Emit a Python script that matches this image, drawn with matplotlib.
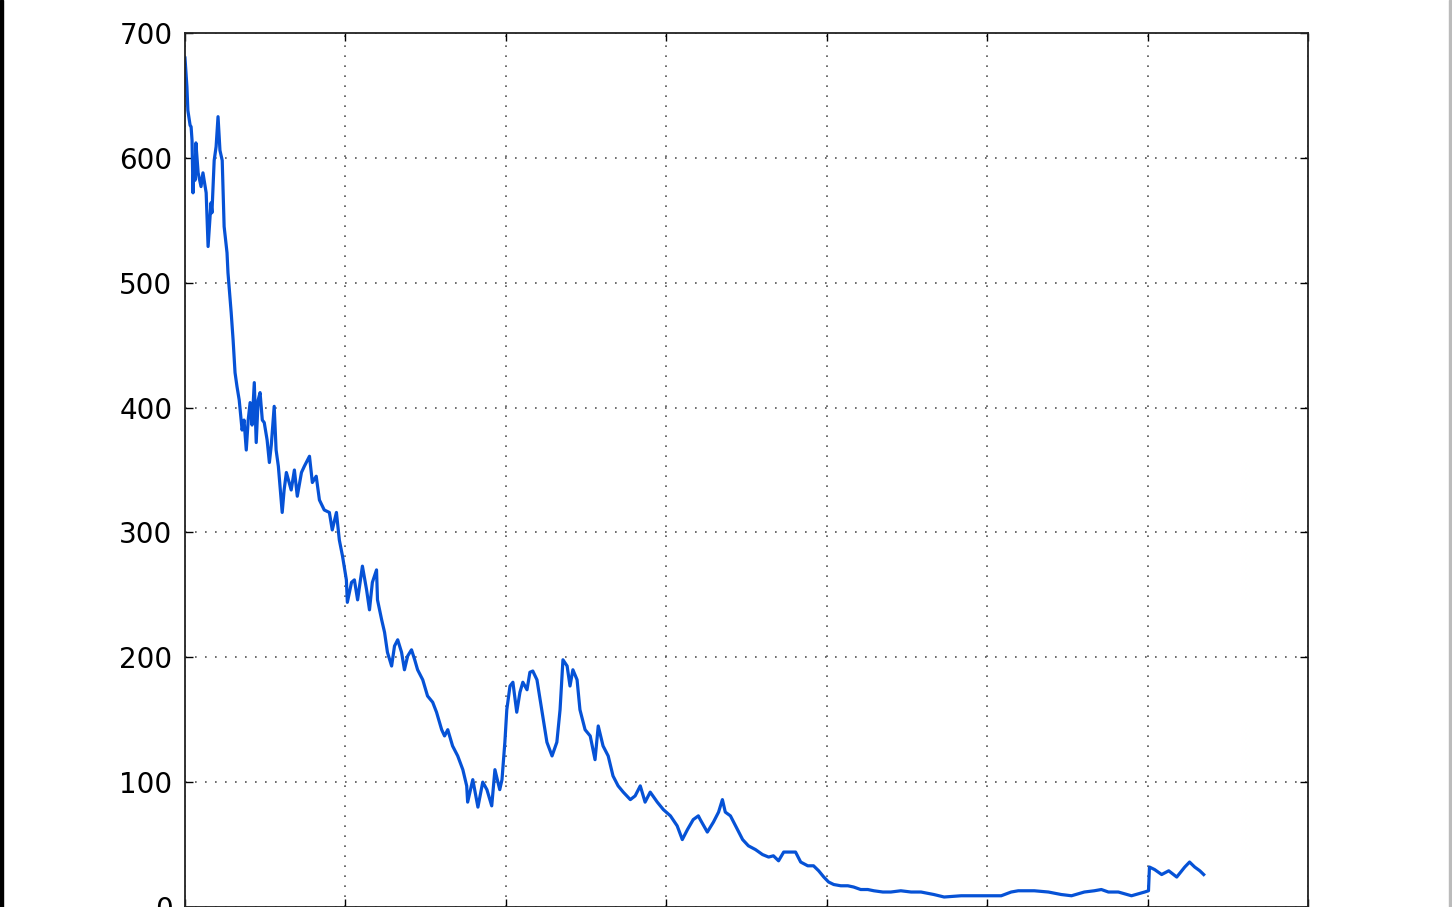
import matplotlib.pyplot as plt
from matplotlib.patches import Rectangle

# values (x in steps, y in value units)
steps = [0, 3, 6, 9, 16, 19, 22, 25, 28, 31, 34, 41, 50, 56, 66, 72, 81, 84, 91, 97,
         103, 109, 116, 122, 131, 134, 144, 150, 156, 162, 169, 178, 184, 191, 197, 203,
         209, 216, 222, 228, 234, 241, 247, 256, 263, 269, 278, 284, 291, 297, 303, 309,
         316, 331, 341, 350, 363, 372, 388, 397, 409, 419, 434, 450, 459, 472, 481, 491,
         503, 506, 519, 528, 538, 550, 553, 566, 575, 584, 597, 600, 613, 622, 631, 644,
         653, 663, 675, 684, 694, 706, 716, 725, 741, 756, 772, 784, 800, 809, 819, 834,
         850, 866, 878, 881, 897, 913, 928, 941, 956, 966, 981, 988, 997, 1003, 1013, 1022,
         1034, 1044, 1053, 1066, 1075, 1084, 1097, 1113, 1128, 1144, 1159, 1169, 1178, 1191,
         1200, 1209, 1222, 1231, 1247, 1263, 1278, 1288, 1303, 1319, 1334, 1350, 1366, 1388,
         1403, 1419, 1434, 1450, 1472, 1491, 1513, 1534, 1550, 1566, 1584, 1600, 1606, 1628,
         1647, 1663, 1675, 1684, 1700, 1722, 1738, 1756, 1778, 1800, 1819, 1834, 1850, 1866,
         1888, 1903, 1919, 1941, 1959, 1975, 1991, 2006, 2022, 2044, 2066, 2084, 2106, 2128,
         2147, 2175, 2200, 2231, 2263, 2294, 2334, 2366, 2419, 2481, 2544, 2575, 2597, 2647,
         2691, 2731, 2763, 2803, 2834, 2856, 2878, 2909, 2950, 2991, 3003, 3006, 3022, 3044,
         3066, 3091, 3116, 3131, 3147, 3163, 3175]
values = [680, 668, 657, 638, 626, 625, 614, 572, 598, 582, 612, 588, 577, 588, 572, 529, 564, 556, 598, 609,
          633, 606, 598, 545, 524, 508, 476, 454, 428, 417, 406, 382, 390, 366, 390, 404,
          386, 420, 372, 406, 412, 390, 388, 374, 356, 370, 401, 366, 353, 334, 316, 334,
          348, 334, 350, 329, 348, 353, 361, 340, 345, 326, 318, 316, 302, 316, 294, 281,
          262, 244, 260, 262, 246, 268, 273, 254, 238, 260, 270, 246, 230, 220, 204, 193,
          209, 214, 204, 190, 201, 206, 198, 190, 182, 169, 164, 156, 142, 137, 142, 129,
          121, 110, 97, 84, 102, 80, 100, 94, 81, 110, 94, 102, 132, 158, 177, 180,
          156, 172, 180, 174, 188, 189, 182, 156, 132, 121, 132, 158, 198, 193,
          177, 190, 182, 158, 142, 137, 118, 145, 129, 121, 105, 97, 92, 86,
          89, 97, 84, 92, 84, 78, 73, 65, 54, 62, 70, 73, 70, 60,
          68, 76, 86, 76, 73, 62, 54, 49, 46, 42, 40, 41, 37, 44,
          44, 44, 36, 33, 33, 29, 24, 20, 18, 17, 17, 16, 14, 14,
          13, 12, 12, 13, 12, 12, 10, 8, 9, 9, 9, 12, 13, 13,
          12, 10, 9, 12, 13, 14, 12, 12, 9, 12, 13, 32, 30, 26,
          29, 24, 32, 36, 32, 29, 26]

x_ticks = [0, 500, 1000, 1500, 2000, 2500, 3000, 3500]
y_ticks = [0, 100, 200, 300, 400, 500, 600, 700]

fig = plt.figure(figsize=(14.52, 9.07), dpi=100)
ax = fig.add_axes([0.1274, 0.0, 0.7734, 0.9636])

ax.plot(steps, values, color='#0652d6', linewidth=2.3)

ax.set_xlim(0, 3500)
ax.set_ylim(0, 700)
ax.set_xticks(x_ticks)
ax.set_yticks(y_ticks)

# classic look: inward ticks on every side, dotted grid
ax.tick_params(direction='in', length=6, width=1, top=True, right=True,
               labelsize=20, pad=9)
ax.tick_params(axis='x', labelbottom=False)  # x labels fall below the frame
ax.grid(True, color='#555555', linestyle=(0, (1, 5)), linewidth=1.2)
for sp in ax.spines.values():
    sp.set_linewidth(1.3)
    sp.set_color('#222222')

# dark strip on the left edge and thin line on the right edge of the frame
fig.patches.append(Rectangle((0, 0), 3 / 1452, 1, transform=fig.transFigure,
                             color='black', zorder=10))
fig.patches.append(Rectangle((1449 / 1452, 0), 1.5 / 1452, 1, transform=fig.transFigure,
                             color='#bbbbbb', zorder=10))

fig.savefig("out.png", dpi=100)
